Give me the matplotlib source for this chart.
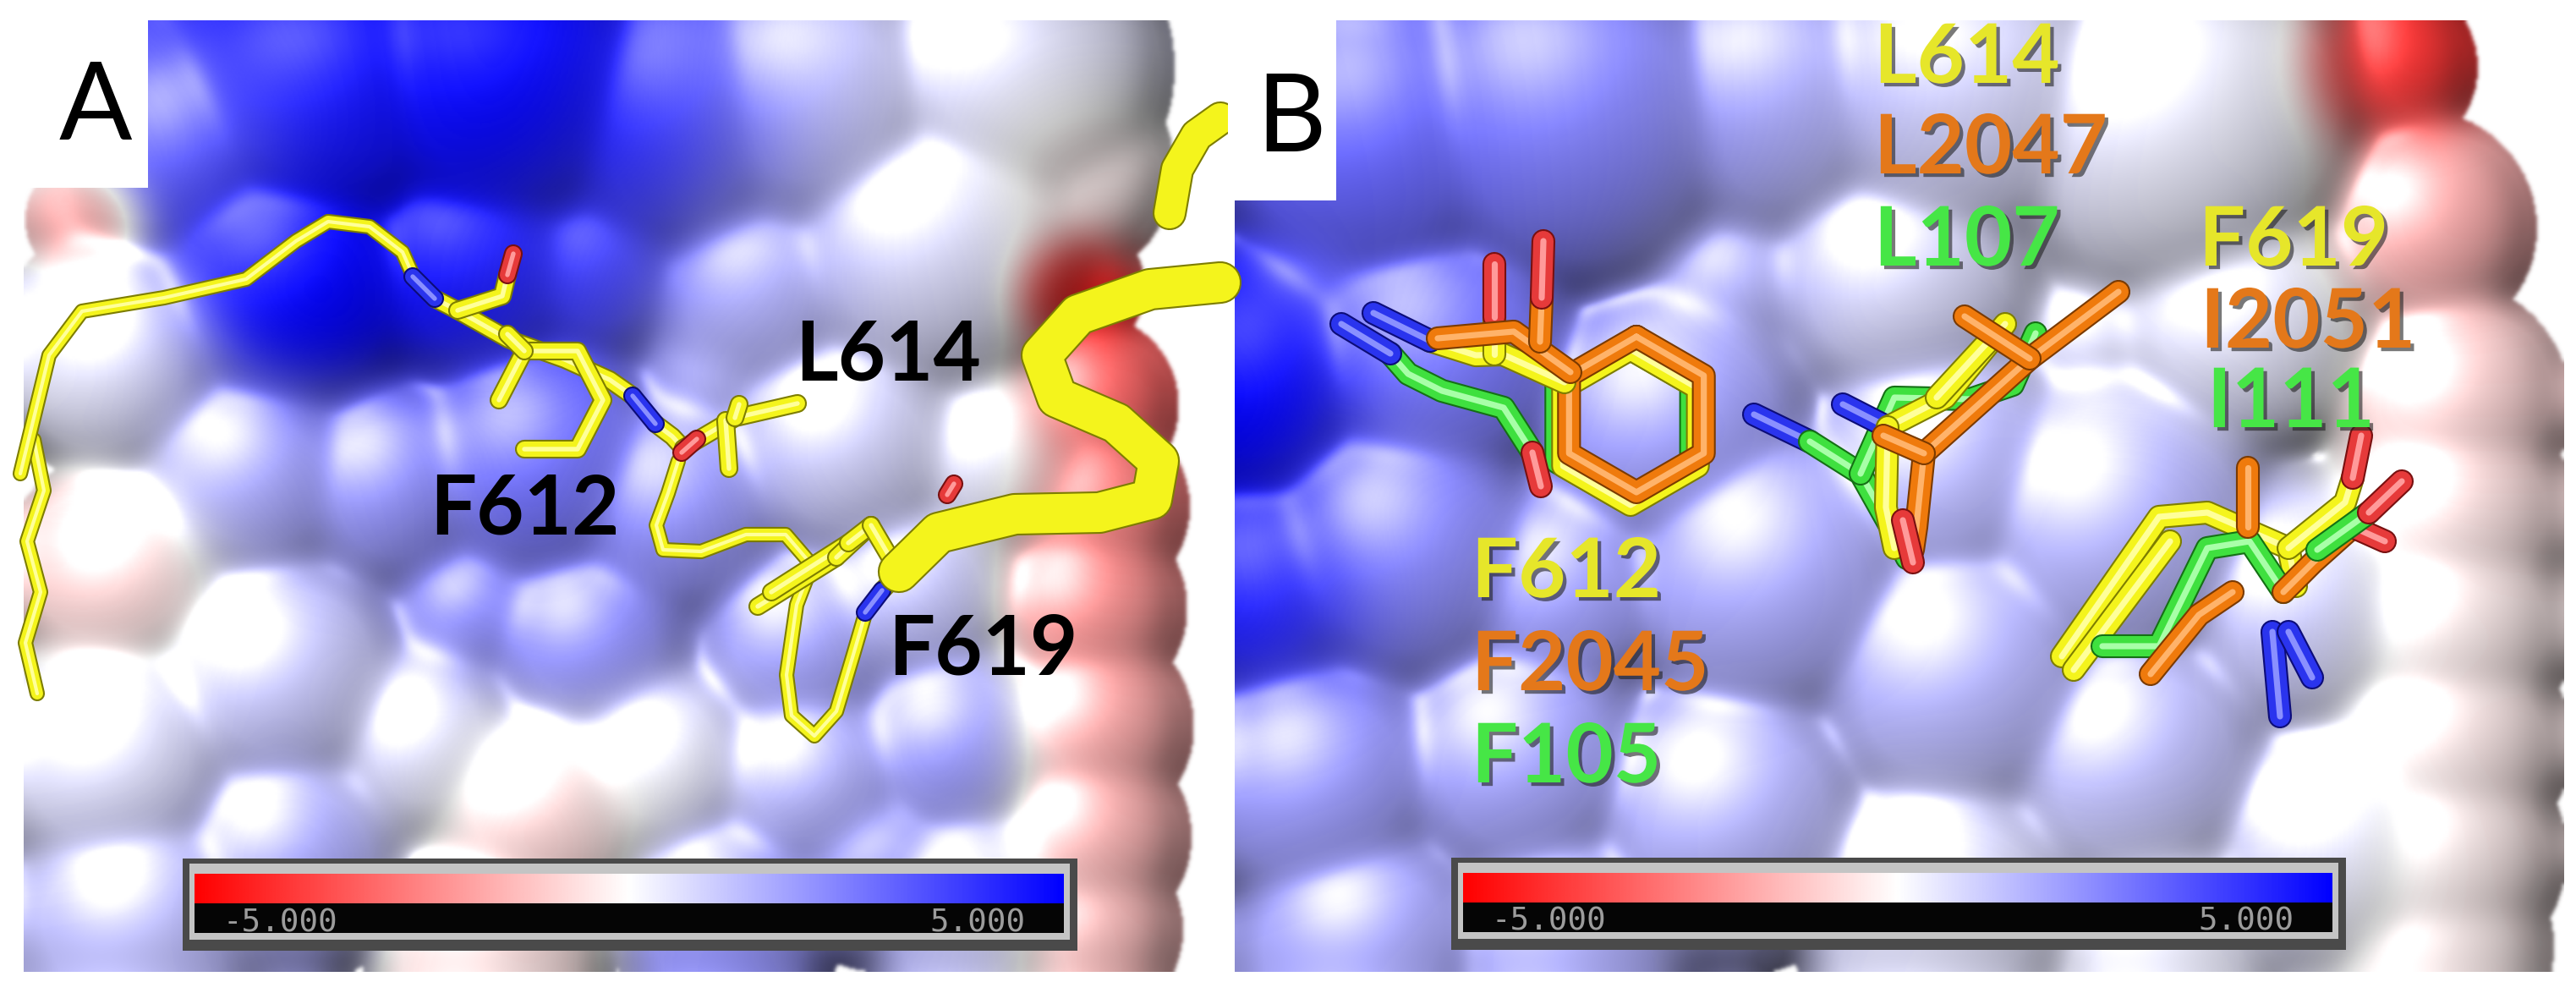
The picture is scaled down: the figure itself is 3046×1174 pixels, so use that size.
import numpy as np
import matplotlib
matplotlib.use('Agg')
import matplotlib.pyplot as plt
import matplotlib.patheffects as pe
from matplotlib.colors import LinearSegmentedColormap
from matplotlib.patches import Rectangle

W, H = 3046, 1174

# ---- surface blobs (x, y, radius, potential kT/e) ----
a_blob_x = [230, 400, 600, 800, 350, 560, 700, 960, 1180, 1100, 900, 1250,
            1270, 1285, 1280, 1280, 150, 110, 90, 460, 300, 640, 800,
            860, 1000, 1170, 1080, 950, 150, 140, 170, 330, 340, 500, 640,
            780, 580, 860, 960, 1130, 1150, 1040, 700, 560,
            1290, 1285, 1280]
a_blob_y = [170, 90, 70, 120, 330, 300, 300, 100, 80, 280, 330, 200,
            340, 480, 720, 990, 420, 260, 430, 570, 560, 540, 600,
            430, 520, 540, 700, 760, 680, 900, 1090, 800, 1010, 880, 960,
            900, 1110, 1080, 920, 880, 1070, 1020, 760, 720,
            600, 860, 1100]
a_blob_r = [170, 220, 240, 220, 190, 180, 160, 220, 210, 210, 170, 140,
            85, 110, 125, 130, 160, 80, 100, 150, 160, 170, 160,
            130, 170, 140, 145, 145, 150, 170, 170, 170, 160, 145, 155,
            145, 155, 145, 145, 145, 145, 130, 145, 120,
            118, 128, 120]
a_blob_pot = [3.0, 4.5, 5.0, 4.0, 5.0, 4.5, 3.5, 1.0, 0.5, 0.6, 1.5, -0.5,
              -5.0, -3.0, -2.0, -1.4, 0.6, -2.0, 0.3, 2.0, 1.6, 2.8, 2.0,
              1.4, 0.8, 0.4, 1.0, 1.8, -0.8, 0.5, 1.2, 1.0, 1.6, 0.5, -0.8,
              0.2, -0.5, 2.0, 1.3, 2.0, 1.0, 1.8, 2.2, 2.2,
              -2.4, -1.6, -1.2]

b_blob_x = [1640, 1860, 2100, 2330, 2560, 2820, 2860, 2250, 2650, 2890, 2880,
            2870, 1490, 1500, 1700, 1660, 1560, 1620, 1800, 1850, 1980,
            2100, 2050, 1850, 2300, 2320, 2300, 2520, 2500, 2720, 2760, 2560,
            2050, 1600, 2480, 2885, 2875, 2870]
b_blob_y = [150, 120, 100, 80, 130, 80, 270, 320, 380, 480, 740,
            1010, 450, 700, 420, 650, 920, 1110, 900, 700, 500,
            680, 960, 1110, 560, 800, 1060, 900, 620, 720, 1000, 1110,
            330, 300, 400, 610, 880, 1120]
b_blob_r = [220, 250, 220, 250, 250, 110, 140, 195, 180, 150, 165,
            165, 180, 170, 195, 195, 180, 170, 180, 170, 195,
            210, 195, 170, 195, 210, 195, 195, 210, 180, 180, 170,
            150, 150, 130, 160, 165, 150]
b_blob_pot = [3.0, 2.4, 1.6, 0.8, 0.3, -4.0, -1.5, 0.6, 0.4, -0.8, -0.3,
              -0.4, 5.0, 4.5, 2.6, 2.2, 1.9, 1.6, 1.7, 1.8, 1.8,
              1.6, 1.4, 1.5, 1.3, 1.4, 0.5, 1.2, 1.4, 1.0, 0.8, 0.3,
              1.4, 3.0, 0.5, -0.5, -0.4, -0.3]

# ---- panel A: peptide (yellow) ----
a_coil = [(24, 560), (58, 420), (97, 368), (194, 352), (291, 330), (350, 285),
          (388, 262), (437, 268), (476, 298), (488, 325)]
a_coil2 = [(802, 545), (790, 583), (776, 621), (784, 650), (829, 652), (882, 632),
           (929, 632), (960, 668), (942, 715), (930, 798), (936, 846), (963, 870),
           (989, 841), (1009, 774), (1023, 726)]
a_left_coil = [(40, 520), (52, 580), (32, 640), (48, 700), (30, 760), (44, 820)]
a_helix = [(1063, 676), (1110, 630), (1200, 608), (1300, 606), (1362, 590),
           (1370, 545), (1320, 500), (1250, 470), (1232, 420), (1275, 372),
           (1360, 342), (1443, 334)]
a_helix_top = [(1383, 252), (1392, 200), (1415, 160), (1443, 140)]
a_backbone = [(514, 353), (541, 367), (601, 401), (668, 425), (721, 449), (748, 468)]
a_n_sticks = [[(488, 327), (514, 353)], [(748, 468), (775, 501)], [(1023, 724), (1043, 698)]]
a_o_sticks = [[(600, 325), (607, 300)], [(806, 535), (824, 519)], [(1120, 585), (1128, 572)]]
a_f612_ring = [(590, 473), (620, 415), (683, 415), (713, 473), (683, 531), (620, 531)]
a_side = [[(620, 415), (600, 395)], [(541, 367), (594, 350), (600, 325)],
          [(775, 501), (795, 516), (808, 530)], [(808, 530), (869, 494), (943, 477)],
          [(858, 497), (862, 554)], [(869, 494), (874, 478)],
          [(896, 717), (989, 659)], [(912, 700), (1003, 642)], [(989, 659), (1030, 621)],
          [(1003, 642), (1030, 621)], [(1030, 621), (1050, 655), (1063, 678)],
          [(1043, 698), (1063, 678)]]

# ---- panel B: superposed residues ----
b_ring_cx = [1920, 1928, 1935]
b_ring_cy = [500, 505, 490]
b_ring_col = ['green', 'yellow', 'orange']
b_sticks = [
    ('green', [(1644, 418), (1665, 442), (1705, 462), (1778, 482), (1812, 535)]),
    ('red', [(1812, 535), (1822, 575)]),
    ('blue', [(1586, 383), (1644, 418)]),
    ('yellow', [(1691, 403), (1745, 420), (1777, 419), (1850, 452)]),
    ('yellow', [(1767, 419), (1767, 375)]),
    ('red', [(1767, 375), (1767, 312)]),
    ('blue', [(1624, 370), (1691, 403)]),
    ('orange', [(1700, 400), (1790, 392), (1857, 440)]),
    ('orange', [(1821, 404), (1823, 352)]),
    ('red', [(1823, 352), (1825, 285)]),
    ('blue', [(2074, 490), (2140, 522)]),
    ('green', [(2140, 522), (2200, 560), (2245, 640), (2255, 660)]),
    ('green', [(2200, 560), (2240, 470), (2330, 472), (2380, 455), (2407, 394)]),
    ('blue', [(2179, 478), (2232, 505)]),
    ('yellow', [(2232, 505), (2300, 470), (2371, 383)]),
    ('yellow', [(2232, 505), (2230, 600), (2240, 648)]),
    ('yellow', [(2290, 470), (2350, 405)]),
    ('orange', [(2505, 345), (2400, 424), (2275, 536), (2266, 623), (2262, 650)]),
    ('orange', [(2400, 424), (2323, 374)]),
    ('orange', [(2275, 536), (2227, 515)]),
    ('red', [(2250, 615), (2262, 665)]),
    ('yellow', [(2438, 776), (2553, 611), (2610, 606), (2706, 648), (2715, 693)]),
    ('yellow', [(2452, 792), (2566, 640)]),
    ('green', [(2486, 764), (2553, 764), (2610, 648), (2660, 640), (2700, 700)]),
    ('orange', [(2543, 797), (2600, 727), (2640, 700)]),
    ('orange', [(2658, 553), (2658, 623)]),
    ('orange', [(2700, 700), (2735, 665), (2782, 623)]),
    ('red', [(2782, 623), (2820, 640)]),
    ('yellow', [(2706, 648), (2773, 594), (2782, 565)]),
    ('red', [(2782, 565), (2792, 515)]),
    ('green', [(2740, 650), (2801, 606)]),
    ('red', [(2801, 606), (2840, 569)]),
    ('blue', [(2687, 747), (2696, 847)]),
    ('blue', [(2706, 747), (2734, 801)]),
]

# ---- labels ----
a_labels = ['L614', 'F612', 'F619']
a_label_x = [940, 508, 1050]
a_label_y = [450, 631, 798]
b_labels = ['L614', 'L2047', 'L107', 'F619', 'I2051', 'I111', 'F612', 'F2045', 'F105']
b_label_col = ['yellow', 'orange', 'green'] * 3
b_label_x = [2216, 2216, 2216, 2600, 2602, 2610, 1740, 1740, 1740]
b_label_y = [98, 205, 314, 314, 411, 505, 706, 816, 925]

cbar_lo, cbar_hi = -5.0, 5.0

col = {'yellow': ('#f4f41c', '#7d7d00', '#ffff9a'),
       'orange': ('#ef7a0c', '#7a3a00', '#ffb36a'),
       'green': ('#3fe03f', '#157015', '#a8ffa8'),
       'red': ('#e63a3a', '#781010', '#ff9a9a'),
       'blue': ('#2a34ee', '#0c0c78', '#8a90ff')}
txt_col = {'yellow': '#e6e62a', 'orange': '#e4781a', 'green': '#46e646'}

apbs = LinearSegmentedColormap.from_list('apbs', ['#ff0000', '#ffffff', '#0000ff'])


def blur(a, s):
    k = np.exp(-0.5 * (np.arange(-3 * s, 3 * s + 1) / s) ** 2)
    k /= k.sum()
    p = 3 * s
    a = np.pad(a, p, mode='edge')
    a = np.apply_along_axis(lambda m: np.convolve(m, k, mode='valid'), 0, a)
    a = np.apply_along_axis(lambda m: np.convolve(m, k, mode='valid'), 1, a)
    return a


def surface(x0, x1, y0, y1, bx, by, br, bp, step=2):
    xs = np.arange(x0, x1, step) + step / 2
    ys = np.arange(y0, y1, step) + step / 2
    X, Y = np.meshgrid(xs, ys)
    h = np.zeros(X.shape)
    ws = np.full(X.shape, 1e-9)
    ps = np.zeros(X.shape)
    for cx, cy, r, p in zip(bx, by, br, bp):
        d2 = (X - cx) ** 2 + (Y - cy) ** 2
        h = np.maximum(h, np.sqrt(np.clip(r * r - d2, 0, None)))
        w = np.exp(-d2 / (0.35 * r * r))
        ws += w
        ps += w * p
    pot = blur(ps / ws, 6)
    mask = (h > 0).astype(float)
    hs = blur(h, 9) * 0.8
    gy, gx = np.gradient(hs, step)
    n = np.dstack([-gx, -gy, np.ones_like(hs)])
    n /= np.linalg.norm(n, axis=2, keepdims=True)
    L = np.array([-0.35, -0.5, 0.8])
    L /= np.linalg.norm(L)
    Hv = L + np.array([0, 0, 1.0])
    Hv /= np.linalg.norm(Hv)
    diff = np.clip(n @ L, 0, 1)
    spec = np.clip(n @ Hv, 0, 1) ** 25
    # crude ambient occlusion: darken where surface sits below its surroundings
    occ = np.clip((blur(hs, 25) - hs) / 70.0, 0, 1)
    base = apbs((np.clip(pot, -5, 5) + 5) / 10)[..., :3]
    rgb = base * ((0.45 + 0.65 * diff) * (1 - 0.55 * occ))[..., None] + 0.3 * spec[..., None]
    rgb = np.clip(rgb, 0, 1)
    alpha = np.clip(blur(mask, 1), 0, 1)
    return np.dstack([rgb, alpha])


def stick(ax, pts, c, w=14, z=5, hl=True):
    main, dark, light = col[c]
    xs, ys = zip(*pts)
    lw = w * 0.72
    effects = [pe.Stroke(linewidth=lw + 3, foreground=dark), pe.Normal()]
    if hl:
        effects.append(pe.Stroke(linewidth=lw * 0.3, foreground=light))
    ax.plot(xs, ys, color=main, lw=lw, solid_capstyle='round', solid_joinstyle='round',
            zorder=z, path_effects=effects)


def hexagon(cx, cy, r):
    ang = np.deg2rad(90 + 60 * np.arange(7))
    return list(zip(cx + r * np.cos(ang), cy - r * np.sin(ang)))


def colorbar(ax, x0, y0, w=1058, h=109):
    ax.add_patch(Rectangle((x0, y0), w, h, fc='#4a4a4a', ec='none', zorder=6))
    ax.add_patch(Rectangle((x0 + 8, y0 + 6), w - 17, h - 19, fc='#c4c4c4', ec='none', zorder=6))
    grad = np.linspace(cbar_lo, cbar_hi, 512)[None, :]
    ax.imshow(grad, cmap=apbs, vmin=cbar_lo, vmax=cbar_hi, aspect='auto',
              extent=(x0 + 14, x0 + w - 16, y0 + 53, y0 + 18), zorder=7)
    ax.add_patch(Rectangle((x0 + 14, y0 + 53), w - 30, 35, fc='#050505', ec='none', zorder=7))
    ax.text(x0 + 48, y0 + 86, '%.3f' % cbar_lo, family='DejaVu Sans Mono', fontsize=27,
            color='#9c9c9c', ha='left', va='baseline', zorder=8)
    ax.text(x0 + 997, y0 + 86, '%.3f' % cbar_hi, family='DejaVu Sans Mono', fontsize=27,
            color='#9c9c9c', ha='right', va='baseline', zorder=8)


fig = plt.figure(figsize=(W / 100, H / 100), dpi=100, facecolor='white')
ax = fig.add_axes([0, 0, 1, 1])

# panel A surface
ax.imshow(surface(28, 1445, 24, 1149, a_blob_x, a_blob_y, a_blob_r, a_blob_pot),
          extent=(28, 1445, 1149, 24), interpolation='bilinear', zorder=1)
# panel B surface
ax.imshow(surface(1460, 3032, 24, 1149, b_blob_x, b_blob_y, b_blob_r, b_blob_pot),
          extent=(1460, 3032, 1149, 24), interpolation='bilinear', zorder=1)

# panel A peptide
stick(ax, a_left_coil, 'yellow', 14)
stick(ax, a_coil, 'yellow', 14)
stick(ax, a_coil2, 'yellow', 14)
stick(ax, a_helix, 'yellow', 46, z=6, hl=False)
stick(ax, a_helix_top, 'yellow', 36, z=6, hl=False)
stick(ax, a_backbone, 'yellow', 18)
stick(ax, a_f612_ring, 'yellow', 18)
for s in a_side:
    stick(ax, s, 'yellow', 18)
for s in a_n_sticks:
    stick(ax, s, 'blue', 18)
for s in a_o_sticks:
    stick(ax, s, 'red', 18)

# panel B residues
for cx, cy, c in zip(b_ring_cx, b_ring_cy, b_ring_col):
    stick(ax, hexagon(cx, cy, 92), c, 24)
for c, pts in b_sticks:
    stick(ax, pts, c, 24)

# labels
for t, x, y in zip(a_labels, a_label_x, a_label_y):
    ax.text(x, y, t, family='Lato', fontweight='bold', fontsize=70, color='black',
            ha='left', va='baseline', zorder=9)
for t, c, x, y in zip(b_labels, b_label_col, b_label_x, b_label_y):
    ax.text(x, y, t, family='Lato', fontweight='bold', fontsize=70, color=txt_col[c],
            ha='left', va='baseline', zorder=9,
            path_effects=[pe.withSimplePatchShadow(offset=(3, -3), shadow_rgbFace='#202020', alpha=0.6)])

colorbar(ax, 216, 1015)
colorbar(ax, 1716, 1014)

# label boxes
ax.add_patch(Rectangle((0, 0), 175, 222, fc='white', ec='none', zorder=10))
ax.add_patch(Rectangle((1452, 0), 128, 237, fc='white', ec='none', zorder=10))
ax.text(70, 165, 'A', family='Lato', fontsize=92, color='black', ha='left', va='baseline', zorder=11)
ax.text(1485, 179, 'B', family='Lato', fontsize=92, color='black', ha='left', va='baseline', zorder=11)

ax.set_xlim(0, W)
ax.set_ylim(H, 0)
ax.set_aspect('auto')
ax.axis('off')
fig.savefig('out.png', dpi=100, facecolor='white')
